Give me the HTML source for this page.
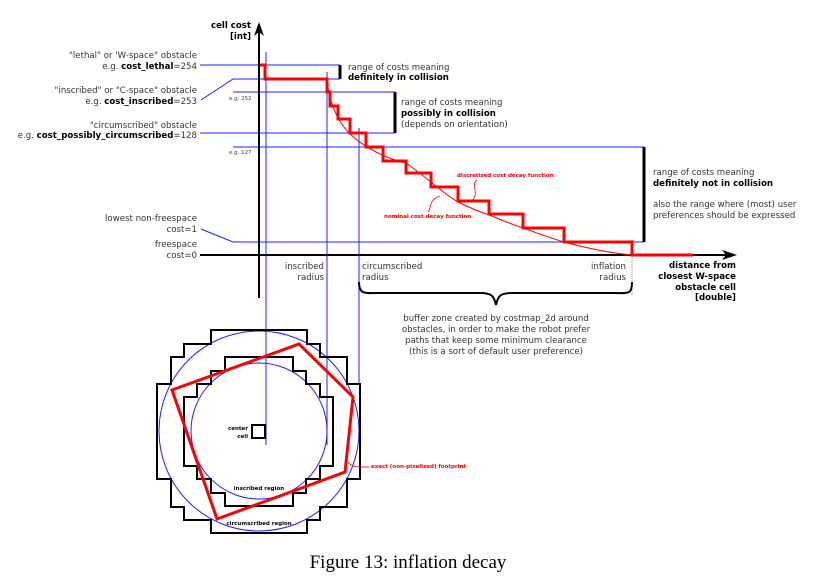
<!DOCTYPE html>
<html><head><meta charset="utf-8"><style>
html,body{margin:0;padding:0;background:#fff;}
svg{display:block;}
text{font-family:"DejaVu Sans","Liberation Sans",sans-serif;}
</style></head><body>
<svg width="815" height="582" viewBox="0 0 815 582" xmlns="http://www.w3.org/2000/svg">
<g fill="none" stroke="#2020ff" stroke-width="1">
<line x1="200" y1="65" x2="340" y2="65"/>
<polyline points="201,100 233,79 340,79"/>
<line x1="233" y1="92" x2="395" y2="92"/>
<line x1="200" y1="133" x2="395" y2="133"/>
<line x1="233" y1="147" x2="644" y2="147"/>
<polyline points="201,229 233,242 644,242"/>
<line x1="266" y1="52" x2="266" y2="445"/>
<line x1="327" y1="72" x2="327" y2="445"/>
<line x1="359" y1="128" x2="359" y2="384"/>
<circle cx="259" cy="431" r="100"/>
<circle cx="259" cy="431" r="68"/>
</g>
<line x1="632" y1="240" x2="632" y2="296" stroke="#888" stroke-width="1" stroke-dasharray="1,1"/>
<line x1="259" y1="30" x2="259" y2="298" stroke="#000" stroke-width="2"/>
<polygon points="259,22 254,36 259,32 264,36" fill="#000"/>
<line x1="200" y1="255" x2="728" y2="255" stroke="#000" stroke-width="2"/>
<polygon points="737,255 722,250 726,255 722,260" fill="#000"/>
<g stroke="#000" stroke-width="3">
<line x1="340" y1="65" x2="340" y2="79"/>
<line x1="395" y1="92" x2="395" y2="133"/>
<line x1="644" y1="147" x2="644" y2="242"/>
</g>
<path d="M327,80 C329,100 336,120 350,134 C365,148 385,158 406,163 C430,180 445,195 458,202 C470,208 480,212 489,215 C500,219 510,224 523,228 C540,234 550,238 564,242 C590,249 610,253 632,255" fill="none" stroke="#f00" stroke-width="1"/>
<polyline fill="none" stroke="#f00" stroke-width="3" points="260,65 265,65 265,79 327,79 327,92 330,92 330,106 338,106 338,119 350,119 350,133 366,133 366,147 383,147 383,161 406,161 406,173 431,173 431,187 458,187 458,201 489,201 489,214 523,214 523,228 564,228 564,242 632,242 632,255 693,255"/>
<path d="M477,180 C470,185 480,192 472,201" fill="none" stroke="#f00" stroke-width="0.8"/>
<path d="M440,196 C428,200 432,208 428,212" fill="none" stroke="#f00" stroke-width="0.8"/>
<path d="M359,282 C359,295 365,293 380,293 L480,293 C492,293 494,296 496,305 C498,296 500,293 512,293 L615,293 C628,293 632,295 632,282" fill="none" stroke="#000" stroke-width="2"/>
<g fill="none" stroke="#000" stroke-width="2">
<polygon points="211,330 307,330 307,344 320,344 320,357 347,357 347,384 360,384 360,479 347,479 347,507 320,507 320,520 307,520 307,533 211,533 211,520 184,520 184,507 171,507 171,479 157,479 157,384 171,384 171,357 184,357 184,344 211,344"/>
<polygon points="225,357 293,357 293,371 306,371 306,384 320,384 320,397 333,397 333,466 320,466 320,479 306,479 306,493 293,493 293,506 225,506 225,493 211,493 211,479 197,479 197,466 184,466 184,397 197,397 197,384 211,384 211,371 225,371"/>
<rect x="252" y="425" width="13" height="13"/>
</g>
<polygon points="172,390 299,344 353,397 345,472 217,519" fill="none" stroke="#f00" stroke-width="3"/>
<path d="M348,462 C352,468 360,467 369,467" fill="none" stroke="#f00" stroke-width="0.8"/>
<g font-size="8.6" fill="#333">
<g text-anchor="end">
<text x="197" y="58">"lethal" or 'W-space" obstacle</text>
<text x="197" y="69">e.g. <tspan font-weight="bold" fill="#000">cost_lethal</tspan>=254</text>
<text x="197" y="93">"inscribed" or "C-space" obstacle</text>
<text x="197" y="104">e.g. <tspan font-weight="bold" fill="#000">cost_inscribed</tspan>=253</text>
<text x="197" y="128">"circumscribed" obstacle</text>
<text x="197" y="138">e.g. <tspan font-weight="bold" fill="#000">cost_possibly_circumscribed</tspan>=128</text>
<text x="197" y="221">lowest non-freespace</text>
<text x="197" y="232">cost=1</text>
<text x="197" y="247">freespace</text>
<text x="197" y="258">cost=0</text>
<text x="251" y="28" font-weight="bold" fill="#000">cell cost</text>
<text x="251" y="39" font-weight="bold" fill="#000">[int]</text>
<text x="324" y="269">inscribed</text>
<text x="324" y="280">radius</text>
<text x="626" y="269">inflation</text>
<text x="626" y="280">radius</text>
<g font-weight="bold" fill="#000">
<text x="736" y="268">distance from</text>
<text x="736" y="279">closest W-space</text>
<text x="736" y="290">obstacle cell</text>
<text x="736" y="300">[double]</text>
</g>
</g>
<text x="362" y="269">circumscribed</text>
<text x="362" y="280">radius</text>
<text x="348" y="70">range of costs meaning</text>
<text x="348" y="80" font-weight="bold" fill="#000">definitely in collision</text>
<text x="401" y="105">range of costs meaning</text>
<text x="401" y="116" font-weight="bold" fill="#000">possibly in collision</text>
<text x="401" y="127">(depends on orientation)</text>
<text x="653" y="175">range of costs meaning</text>
<text x="653" y="186" font-weight="bold" fill="#000">definitely not in collision</text>
<text x="653" y="207">also the range where (most) user</text>
<text x="653" y="218">preferences should be expressed</text>
<g text-anchor="middle">
<text x="496" y="321">buffer zone created by costmap_2d around</text>
<text x="496" y="332">obstacles, in order to make the robot prefer</text>
<text x="496" y="343">paths that keep some minimum clearance</text>
<text x="496" y="354">(this is a sort of default user preference)</text>
</g>
</g>
<g font-size="5.5" fill="#444">
<text x="229" y="100">e.g. 252</text>
<text x="229" y="154">e.g. 127</text>
</g>
<g font-size="5.5" fill="#f00" font-weight="bold">
<text x="457" y="177">discretized cost decay function</text>
<text x="384" y="218">nominal cost decay function</text>
<text x="371" y="468">exact (non-pixelized) footprint</text>
</g>
<g font-size="5.5" fill="#000" font-weight="bold" text-anchor="end">
<text x="248" y="430">center</text>
<text x="248" y="438">cell</text>
</g>
<g font-size="5.5" fill="#000" font-weight="bold" text-anchor="middle">
<text x="259" y="490">inscribed region</text>
<text x="259" y="525">circumscribed region</text>
</g>
<text x="408" y="568" text-anchor="middle" font-size="19" fill="#000" style="font-family:'Liberation Serif',serif">Figure 13: inflation decay</text>
</svg>
</body></html>
